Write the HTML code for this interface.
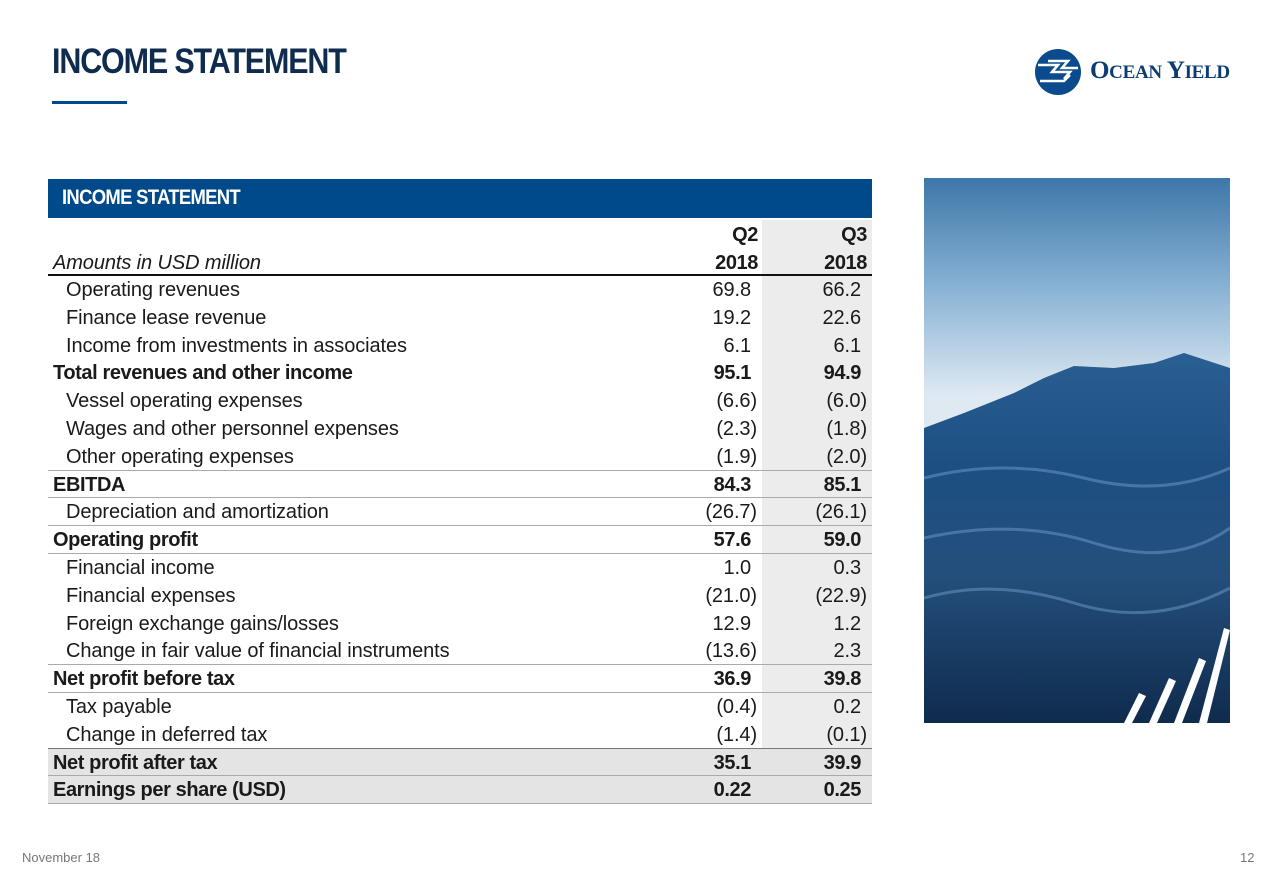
<!DOCTYPE html>
<html><head><meta charset="utf-8"><style>
body{margin:0;width:1280px;height:886px;background:#fff;position:relative;overflow:hidden;font-family:"Liberation Sans",sans-serif;}
.abs{position:absolute;}
#title{left:52px;top:42px;font-size:35px;font-weight:bold;color:#0f2b4e;letter-spacing:-1.3px;transform:scaleX(0.87);transform-origin:left;}
#tbl{left:48px;top:179px;width:824px;}
.row{position:absolute;left:0;width:824px;height:28px;font-size:20px;letter-spacing:-0.1px;color:#1a1a1a;}
.row span{position:absolute;top:3px;white-space:nowrap;}
.lab{left:5px}.ind{left:18px}
.b{font-weight:bold;letter-spacing:-0.4px}
</style></head><body>
<div class="abs" id="title">INCOME STATEMENT</div>
<div class="abs" style="left:52px;top:101px;width:75px;height:3px;background:#004a8b"></div>
<div class="abs" style="left:1034px;top:48px;width:48px;height:48px">
<svg width="48" height="48"><circle cx="24" cy="24" r="23" fill="#0b4a8c"/><g stroke="#fff" stroke-width="2.5" fill="none"><path d="M4 17 H24 L18 24 H36 L30 31"/><path d="M14 13 H34 L28 20 H44"/><path d="M6 33 H30 L36 27"/></g></svg></div>
<div class="abs" style="left:1090px;top:57px;font-family:'Liberation Serif',serif;font-size:25px;font-weight:bold;color:#0b3d73;letter-spacing:-0.3px">O<span style="font-size:19px">CEAN</span> Y<span style="font-size:19px">IELD</span></div>
<div class="abs" id="tbl">
<div class="abs" style="left:0;top:0;width:824px;height:39px;background:#004a8b"><span style="position:absolute;left:14px;top:7px;color:#fff;font-weight:bold;font-size:21px;letter-spacing:-0.8px;transform:scaleX(0.88);transform-origin:left;display:inline-block">INCOME STATEMENT</span></div>
<div class="abs" style="left:714px;top:41px;width:110px;height:583px;background:#ececec"></div>
<div class="row" style="top:42px"><span class="b" style="right:114px">Q2</span><span class="b" style="right:5px">Q3</span></div>
<div class="row" style="top:70px;border-bottom:2px solid #111;height:25px"><span class="lab" style="font-style:italic">Amounts in USD million</span><span class="b" style="right:114px">2018</span><span class="b" style="right:5px">2018</span></div>
<div id="rows"></div>
</div>
<div class="abs" style="left:924px;top:178px;width:306px;height:545px">
<svg width="306" height="545"><defs>
<linearGradient id="sky" x1="0" y1="0" x2="0" y2="1"><stop offset="0" stop-color="#3d77a8"/><stop offset="0.2" stop-color="#88b2d4"/><stop offset="0.4" stop-color="#dfe9f2"/></linearGradient>
<linearGradient id="sea" x1="0" y1="0" x2="0" y2="1"><stop offset="0" stop-color="#2a5f93"/><stop offset="0.3" stop-color="#1d4f82"/><stop offset="0.6" stop-color="#244f7c"/><stop offset="1" stop-color="#0f2b4d"/></linearGradient></defs>
<rect width="306" height="545" fill="url(#sky)"/>
<path d="M0 250 L40 235 L90 215 L120 200 L150 188 L190 190 L230 185 L260 175 L306 190 L306 545 L0 545Z" fill="url(#sea)"/>
<g stroke="#6f9ccb" stroke-width="3" fill="none" opacity="0.5"><path d="M0 300 Q80 280 160 300 T306 290"/><path d="M0 360 Q90 340 170 365 T306 350"/><path d="M0 420 Q70 400 150 425 T306 410"/></g>
<g fill="#fff"><path d="M200 545 L215 515 L222 518 L208 545Z"/><path d="M225 545 L245 500 L252 503 L233 545Z"/><path d="M250 545 L275 480 L282 483 L258 545Z"/><path d="M275 545 L300 450 L306 452 L283 545Z"/></g>
</svg></div>
<div class="abs" style="left:22px;top:850px;font-size:13px;color:#777">November 18</div>
<div class="abs" style="left:1240px;top:850px;font-size:13px;color:#777">12</div>
<script>
const labels=["Operating revenues","Finance lease revenue","Income from investments in associates","Total revenues and other income","Vessel operating expenses","Wages and other personnel expenses","Other operating expenses","EBITDA","Depreciation and amortization","Operating profit","Financial income","Financial expenses","Foreign exchange gains/losses","Change in fair value of financial instruments","Net profit before tax","Tax payable","Change in deferred tax","Net profit after tax","Earnings per share (USD)"];
const q2=["69.8","19.2","6.1","95.1","(6.6)","(2.3)","(1.9)","84.3","(26.7)","57.6","1.0","(21.0)","12.9","(13.6)","36.9","(0.4)","(1.4)","35.1","0.22"];
const q3=["66.2","22.6","6.1","94.9","(6.0)","(1.8)","(2.0)","85.1","(26.1)","59.0","0.3","(22.9)","1.2","2.3","39.8","0.2","(0.1)","39.9","0.25"];
const bold=[3,7,9,14,17,18];
const grey=[17,18];
const lined=[6,7,8,9,13,14,16,17,18];
const cont=document.getElementById('rows');
labels.forEach((l,i)=>{
 const r=document.createElement('div');
 
 
 r.className='row';
 r.style.top=(97+i*27.8)+'px';
 r.style.height='27.8px';
 if(grey.includes(i))r.style.background='#e4e4e4';
 if(lined.includes(i)){r.style.borderBottom=(i==16?'1.5px solid #777':'1px solid #aaa');r.style.height='26.8px';}
 const b=bold.includes(i);
 const paren=s=>s.startsWith('(');
 r.innerHTML='<span class="'+(b?'lab b':'ind')+'">'+l+'</span>'+
 '<span class="'+(b?'b':'')+'" style="right:'+(paren(q2[i])?115:121)+'px">'+q2[i]+'</span>'+
 '<span class="'+(b?'b':'')+'" style="right:'+(paren(q3[i])?5:11)+'px">'+q3[i]+'</span>';
 cont.appendChild(r);
});
</script>
</body></html>
